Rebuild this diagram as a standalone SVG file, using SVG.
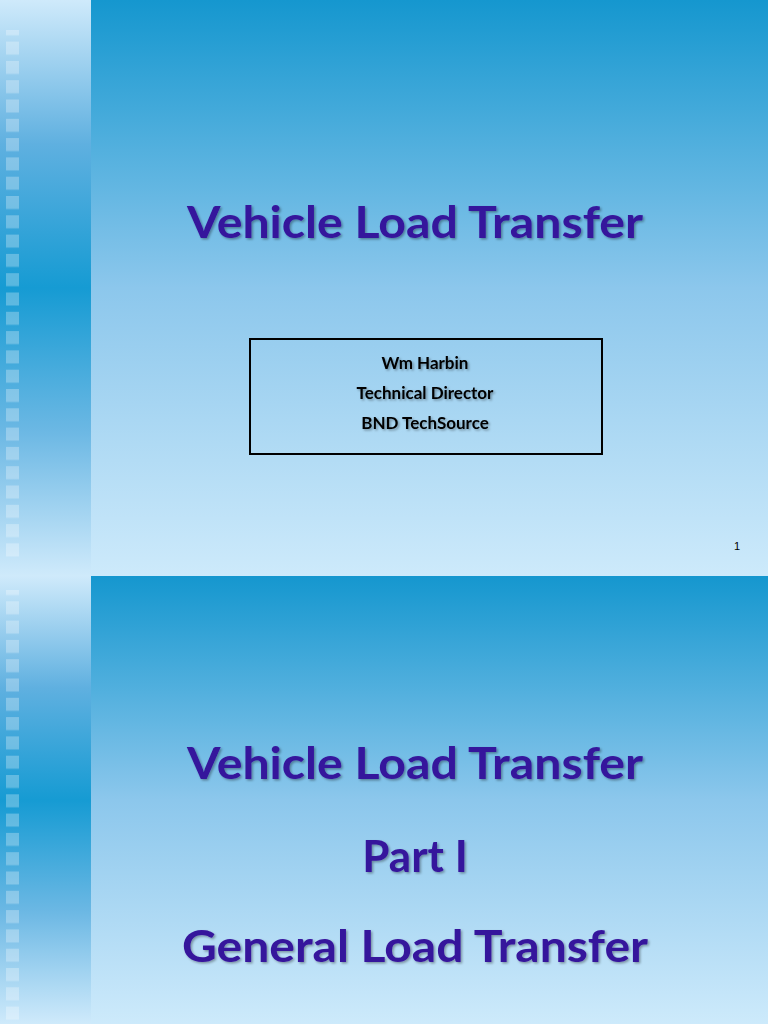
<svg xmlns="http://www.w3.org/2000/svg" width="768" height="1024" viewBox="0 0 768 1024">
<defs>
<linearGradient id="bg" x1="0" y1="0" x2="0" y2="1"><stop offset="0" stop-color="#1597cf"/><stop offset="0.5" stop-color="#8cc7ec"/><stop offset="1" stop-color="#cdeafb"/></linearGradient>
<linearGradient id="strip1" x1="0" y1="0" x2="0" y2="1"><stop offset="0" stop-color="#cfeafb"/><stop offset="0.25" stop-color="#5fb0e0"/><stop offset="0.5" stop-color="#169bd3"/><stop offset="0.75" stop-color="#6cb8e4"/><stop offset="1" stop-color="#cfeafb"/></linearGradient>
<pattern id="sq" x="0" y="3" width="91" height="19.3" patternUnits="userSpaceOnUse"><rect x="6" y="0" width="13" height="13" fill="#ffffff" fill-opacity="0.28"/></pattern>
<filter id="sh" x="-5%" y="-20%" width="110%" height="150%"><feDropShadow dx="1.5" dy="1.5" stdDeviation="1" flood-color="#000" flood-opacity="0.35"/></filter>
</defs>
<style>
.t{font-family:Lato,"Open Sans","Liberation Sans",sans-serif;font-weight:bold;fill:#36139c;text-anchor:middle;filter:url(#sh)}
.s{font-family:Lato,"Open Sans","Liberation Sans",sans-serif;font-weight:bold;fill:#000;text-anchor:middle;font-size:17px;filter:url(#sh)}
</style>
<rect width="768" height="1024" fill="#cdeafb"/>
<g id="slide1">
<rect x="91" y="0" width="677" height="576" fill="url(#bg)"/>
<rect x="0" y="0" width="91" height="576" fill="url(#strip1)"/>
<rect x="0" y="30" width="91" height="530" fill="url(#sq)"/>
<text class="t" x="415" y="238" font-size="44" textLength="456" lengthAdjust="spacingAndGlyphs">Vehicle Load Transfer</text>
<g id="box">
<rect x="250" y="339" width="352" height="115" fill="none" stroke="#000" stroke-width="2"/>
<text class="s" x="425" y="369">Wm Harbin</text>
<text class="s" x="425" y="399">Technical Director</text>
<text class="s" x="425" y="429">BND TechSource</text>
</g>
<text x="737" y="550" font-family="Liberation Sans,sans-serif" font-size="11" fill="#000" text-anchor="middle">1</text>
</g>
<g id="slide2">
<rect x="91" y="576" width="677" height="448" fill="url(#bg)"/>
<rect x="0" y="576" width="91" height="448" fill="url(#strip1)"/>
<rect x="0" y="590" width="91" height="434" fill="url(#sq)"/>
<text class="t" x="415" y="779" font-size="44" textLength="456" lengthAdjust="spacingAndGlyphs">Vehicle Load Transfer</text>
<text class="t" x="415" y="872" font-size="44">Part I</text>
<text class="t" x="415" y="962" font-size="44" textLength="466" lengthAdjust="spacingAndGlyphs">General Load Transfer</text>
</g>
</svg>
